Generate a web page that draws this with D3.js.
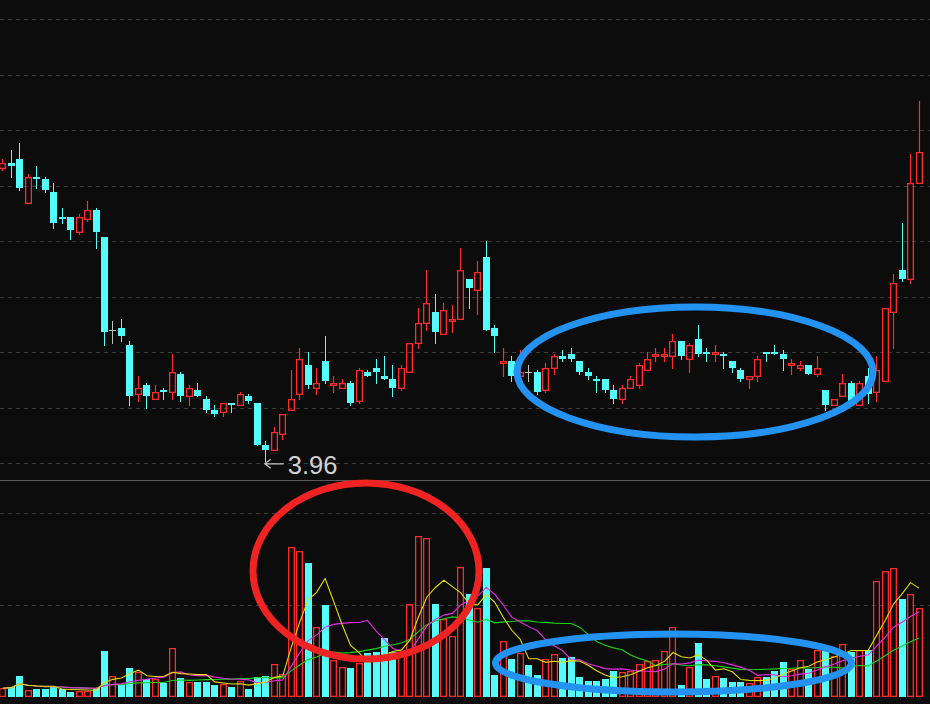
<!DOCTYPE html>
<html><head><meta charset="utf-8">
<script src="https://cdn.jsdelivr.net/npm/d3@7"></script>
<style>html,body{margin:0;padding:0;background:#0c0c0c;overflow:hidden}</style>
</head><body><div id="chart"></div>
<script>
// ---- data (daily K-line) ----
const openP = [5.28,5.30,5.32,5.12,5.24,5.23,5.17,5.06,5.06,4.99,
 5.05,5.09,4.97,4.55,4.56,4.48,4.26,4.30,4.24,4.28,
 4.27,4.35,4.25,4.28,4.24,4.19,4.18,4.22,4.21,4.25,
 4.22,4.03,4.01,4.08,4.19,4.26,4.39,4.29,4.41,4.30,
 4.29,4.31,4.23,4.36,4.38,4.34,4.33,4.29,4.36,4.49,
 4.58,4.63,4.53,4.59,4.60,4.78,4.73,4.88,4.56,4.40,
 4.41,4.34,4.36,4.36,4.28,4.38,4.43,4.44,4.41,4.36,
 4.33,4.33,4.28,4.24,4.29,4.30,4.37,4.43,4.43,4.43,
 4.50,4.42,4.51,4.45,4.44,4.44,4.41,4.37,4.33,4.34,
 4.45,4.45,4.44,4.39,4.38,4.39,4.35,4.28,4.21,4.25,
 4.31,4.21,4.34,4.27,4.32,4.63,4.82,4.78,5.21];
const highP = [5.32,5.36,5.39,5.25,5.29,5.24,5.21,5.10,5.06,5.07,
 5.13,5.10,4.97,4.59,4.60,4.50,4.34,4.31,4.30,4.29,
 4.44,4.36,4.30,4.31,4.25,4.21,4.22,4.22,4.27,4.26,
 4.22,4.05,4.11,4.17,4.37,4.47,4.45,4.38,4.52,4.34,
 4.33,4.32,4.38,4.37,4.42,4.43,4.39,4.39,4.49,4.65,
 4.82,4.71,4.67,4.66,4.92,4.78,4.86,4.95,4.57,4.47,
 4.43,4.46,4.39,4.37,4.40,4.44,4.46,4.47,4.41,4.38,
 4.34,4.33,4.30,4.30,4.34,4.40,4.45,4.47,4.47,4.53,
 4.50,4.49,4.57,4.47,4.48,4.45,4.41,4.38,4.34,4.43,
 4.45,4.48,4.46,4.42,4.41,4.39,4.43,4.28,4.24,4.35,
 4.32,4.32,4.38,4.43,4.65,4.80,5.03,5.34,5.58];
const lowP = [5.27,5.24,5.18,5.12,5.19,5.17,5.01,5.03,4.96,4.98,
 5.04,4.92,4.48,4.49,4.50,4.21,4.23,4.20,4.24,4.24,
 4.24,4.23,4.21,4.25,4.18,4.16,4.16,4.18,4.21,4.22,
 4.03,3.96,4.01,4.06,4.19,4.24,4.29,4.26,4.31,4.27,
 4.29,4.21,4.22,4.34,4.31,4.33,4.25,4.28,4.36,4.47,
 4.55,4.49,4.53,4.54,4.60,4.65,4.62,4.55,4.45,4.34,
 4.32,4.34,4.32,4.26,4.27,4.35,4.41,4.41,4.35,4.33,
 4.27,4.27,4.22,4.22,4.29,4.29,4.37,4.41,4.41,4.38,
 4.42,4.36,4.43,4.41,4.41,4.38,4.36,4.32,4.29,4.32,
 4.41,4.44,4.37,4.35,4.37,4.35,4.34,4.19,4.21,4.25,
 4.22,4.21,4.22,4.23,4.32,4.47,4.77,4.76,5.21];
const closeP = [5.30,5.29,5.19,5.24,5.23,5.18,5.03,5.05,5.00,5.06,
 5.09,4.99,4.54,4.55,4.52,4.25,4.29,4.25,4.27,4.27,
 4.36,4.25,4.29,4.25,4.19,4.17,4.22,4.21,4.26,4.23,
 4.03,4.01,4.09,4.17,4.24,4.42,4.30,4.31,4.32,4.31,
 4.31,4.22,4.37,4.34,4.36,4.33,4.29,4.38,4.49,4.58,
 4.67,4.54,4.64,4.60,4.82,4.74,4.81,4.55,4.52,4.41,
 4.34,4.36,4.36,4.27,4.38,4.43,4.42,4.42,4.36,4.34,
 4.32,4.28,4.24,4.29,4.33,4.39,4.42,4.44,4.44,4.50,
 4.43,4.48,4.44,4.44,4.45,4.43,4.38,4.33,4.34,4.42,
 4.44,4.44,4.42,4.40,4.39,4.35,4.38,4.21,4.24,4.31,
 4.22,4.31,4.26,4.37,4.65,4.76,4.78,5.21,5.35];
const volume = [8.7,10,21.3,7,7.7,7.7,9.7,7.7,5,6,
 6.3,8.7,46,21.3,13,28.7,25.3,17.7,17.7,14.3,
 48.7,18.7,15.3,14.7,14.7,12,13,10.3,16.3,7.7,
 19.7,21.3,33,22.7,150.3,146,133.7,70.3,92,37,
 29.7,28.7,34.3,44.3,45.3,58.7,45.3,42,92.7,161.3,
 158.7,93,77.7,61.3,130,103,88.7,129.3,22,56,
 37.7,43.7,32,22,38,43,38.7,40.3,20.3,16,
 16,17.7,26.3,25.3,26,33,36,37,46,70.3,
 12,29.7,53.7,17.7,21.3,18.7,14.7,14.7,13.7,20.3,
 20.3,26.3,34.7,28,37,28,47,46.3,41.3,52.7,
 45.3,47,47,116,126,128.7,98,103,88.7];
const maPeriods = [20, 10, 5];
const maColors = ["#19d219", "#e62ce6", "#e6dc00"];
const priceGrid = [3.95,4.20,4.45,4.70,4.95,5.20,5.45,5.70,5.95];
const volGrid = [92, 184];
const lowLabel = "3.96";

// ---- drawing ----
const W = 930, H = 704;
const RED = "#ff2b2b", CYAN = "#54fcfc", GRAY = "#bdbdbd";
const SW = 1.3; // outline width of hollow (rising) bars
const svg = d3.select("#chart").append("svg")
  .attr("width", W).attr("height", H).style("display", "block");
svg.append("rect").attr("width", W).attr("height", H).attr("fill", "#0c0c0c");

const n = closeP.length;
const x = d3.scaleLinear().domain([0, n - 1]).range([2.7, 919]);
const yP = d3.scaleLinear().domain([3.95, 5.95]).range([463, 19]);
const yV = d3.scaleLinear().domain([0, 184]).range([697, 513]);

function gridAxis(scale, vals) {
  const g = svg.append("g")
    .call(d3.axisRight(scale).tickValues(vals).tickSize(W).tickFormat("").offset(0));
  g.select(".domain").remove();
  g.selectAll(".tick").attr("transform", d => `translate(0,${Math.round(scale(d)) + 0.5})`);
  g.selectAll(".tick line").attr("stroke", "#3b3b3b").attr("stroke-dasharray", "4,4");
}
gridAxis(yP, priceGrid);
gridAxis(yV, volGrid);
svg.append("line").attr("x1", 0).attr("x2", W).attr("y1", 480.5).attr("y2", 480.5)
  .attr("stroke", "#5a5a5a").attr("stroke-width", 1);

function dir(i) { return closeP[i] > openP[i] ? 1 : closeP[i] < openP[i] ? -1 : 0; }
function volUp(i) { const d = dir(i); return d !== 0 ? d > 0 : (i > 0 && closeP[i] > closeP[i - 1]); }

function hollow(g, left, top, bot) {
  g.append("rect").attr("x", left + SW / 2).attr("y", top + SW / 2)
    .attr("width", 7 - SW).attr("height", Math.max(bot - top - SW + 1, 0.5))
    .attr("fill", "none").attr("stroke", RED).attr("stroke-width", SW);
}

const cg = svg.append("g");
d3.range(n).forEach(i => {
  const left = Math.round(x(i) - 3.5), wx = left + 3.5;
  const o = openP[i], c = closeP[i];
  const top = Math.round(yP(Math.max(o, c))), bot = Math.round(yP(Math.min(o, c)));
  const hy = Math.round(yP(highP[i])), ly = Math.round(yP(lowP[i]));
  const d = dir(i);
  if (d > 0) {
    if (hy < top) cg.append("line").attr("x1", wx).attr("x2", wx).attr("y1", hy).attr("y2", top).attr("stroke", RED).attr("stroke-width", 1.2);
    if (ly > bot) cg.append("line").attr("x1", wx).attr("x2", wx).attr("y1", bot + 1).attr("y2", ly + 1).attr("stroke", RED).attr("stroke-width", 1.2);
    hollow(cg, left, top, bot);
  } else if (d < 0) {
    cg.append("line").attr("x1", wx).attr("x2", wx).attr("y1", hy).attr("y2", ly + 1).attr("stroke", CYAN);
    cg.append("rect").attr("x", left).attr("y", top).attr("width", 7)
      .attr("height", Math.max(bot - top, 1)).attr("fill", CYAN);
  } else {
    cg.append("line").attr("x1", wx).attr("x2", wx).attr("y1", hy).attr("y2", ly + 1).attr("stroke", GRAY);
    cg.append("line").attr("x1", left).attr("x2", left + 7).attr("y1", top + 0.5).attr("y2", top + 0.5).attr("stroke", GRAY);
  }
  // volume bar
  const vt = Math.round(yV(volume[i])), base = Math.round(yV(0));
  if (volUp(i)) {
    hollow(cg, left, vt, base - 1);
  } else {
    cg.append("rect").attr("x", left).attr("y", vt).attr("width", 7)
      .attr("height", base - vt).attr("fill", CYAN);
  }
});

// volume moving averages
maPeriods.forEach((p, k) => {
  const ma = volume.map((v, i) => d3.mean(volume.slice(Math.max(0, i - p + 1), i + 1)));
  svg.append("path").datum(ma)
    .attr("d", d3.line().x((v, i) => x(i)).y(v => yV(v)))
    .attr("fill", "none").attr("stroke", maColors[k]).attr("stroke-width", 1.1);
});

// low annotation
const li = lowP.indexOf(d3.min(lowP));
const ay = yP(lowP[li]) + 3;
const ax = x(li) - 1;
svg.append("path")
  .attr("d", `M${ax + 19},${ay} L${ax},${ay} M${ax + 6},${ay - 4.5} L${ax},${ay} L${ax + 6},${ay + 4.5}`)
  .attr("fill", "none").attr("stroke", "#c8c8c8").attr("stroke-width", 1.2);
svg.append("text").attr("x", ax + 23).attr("y", ay + 10)
  .attr("font-family", "'Liberation Sans', Arial, sans-serif").attr("font-size", 25.5)
  .attr("fill", "#d2d2d2").text(lowLabel);

// highlight ellipses
svg.append("ellipse").attr("cx", 366).attr("cy", 571).attr("rx", 113).attr("ry", 88)
  .attr("fill", "none").attr("stroke", "#f02323").attr("stroke-width", 7);
svg.append("ellipse").attr("cx", 695).attr("cy", 372).attr("rx", 178).attr("ry", 65)
  .attr("fill", "none").attr("stroke", "#2392f0").attr("stroke-width", 7);
svg.append("ellipse").attr("cx", 673.5).attr("cy", 663).attr("rx", 178).attr("ry", 29)
  .attr("fill", "none").attr("stroke", "#2392f0").attr("stroke-width", 7);
</script>
</body></html>
